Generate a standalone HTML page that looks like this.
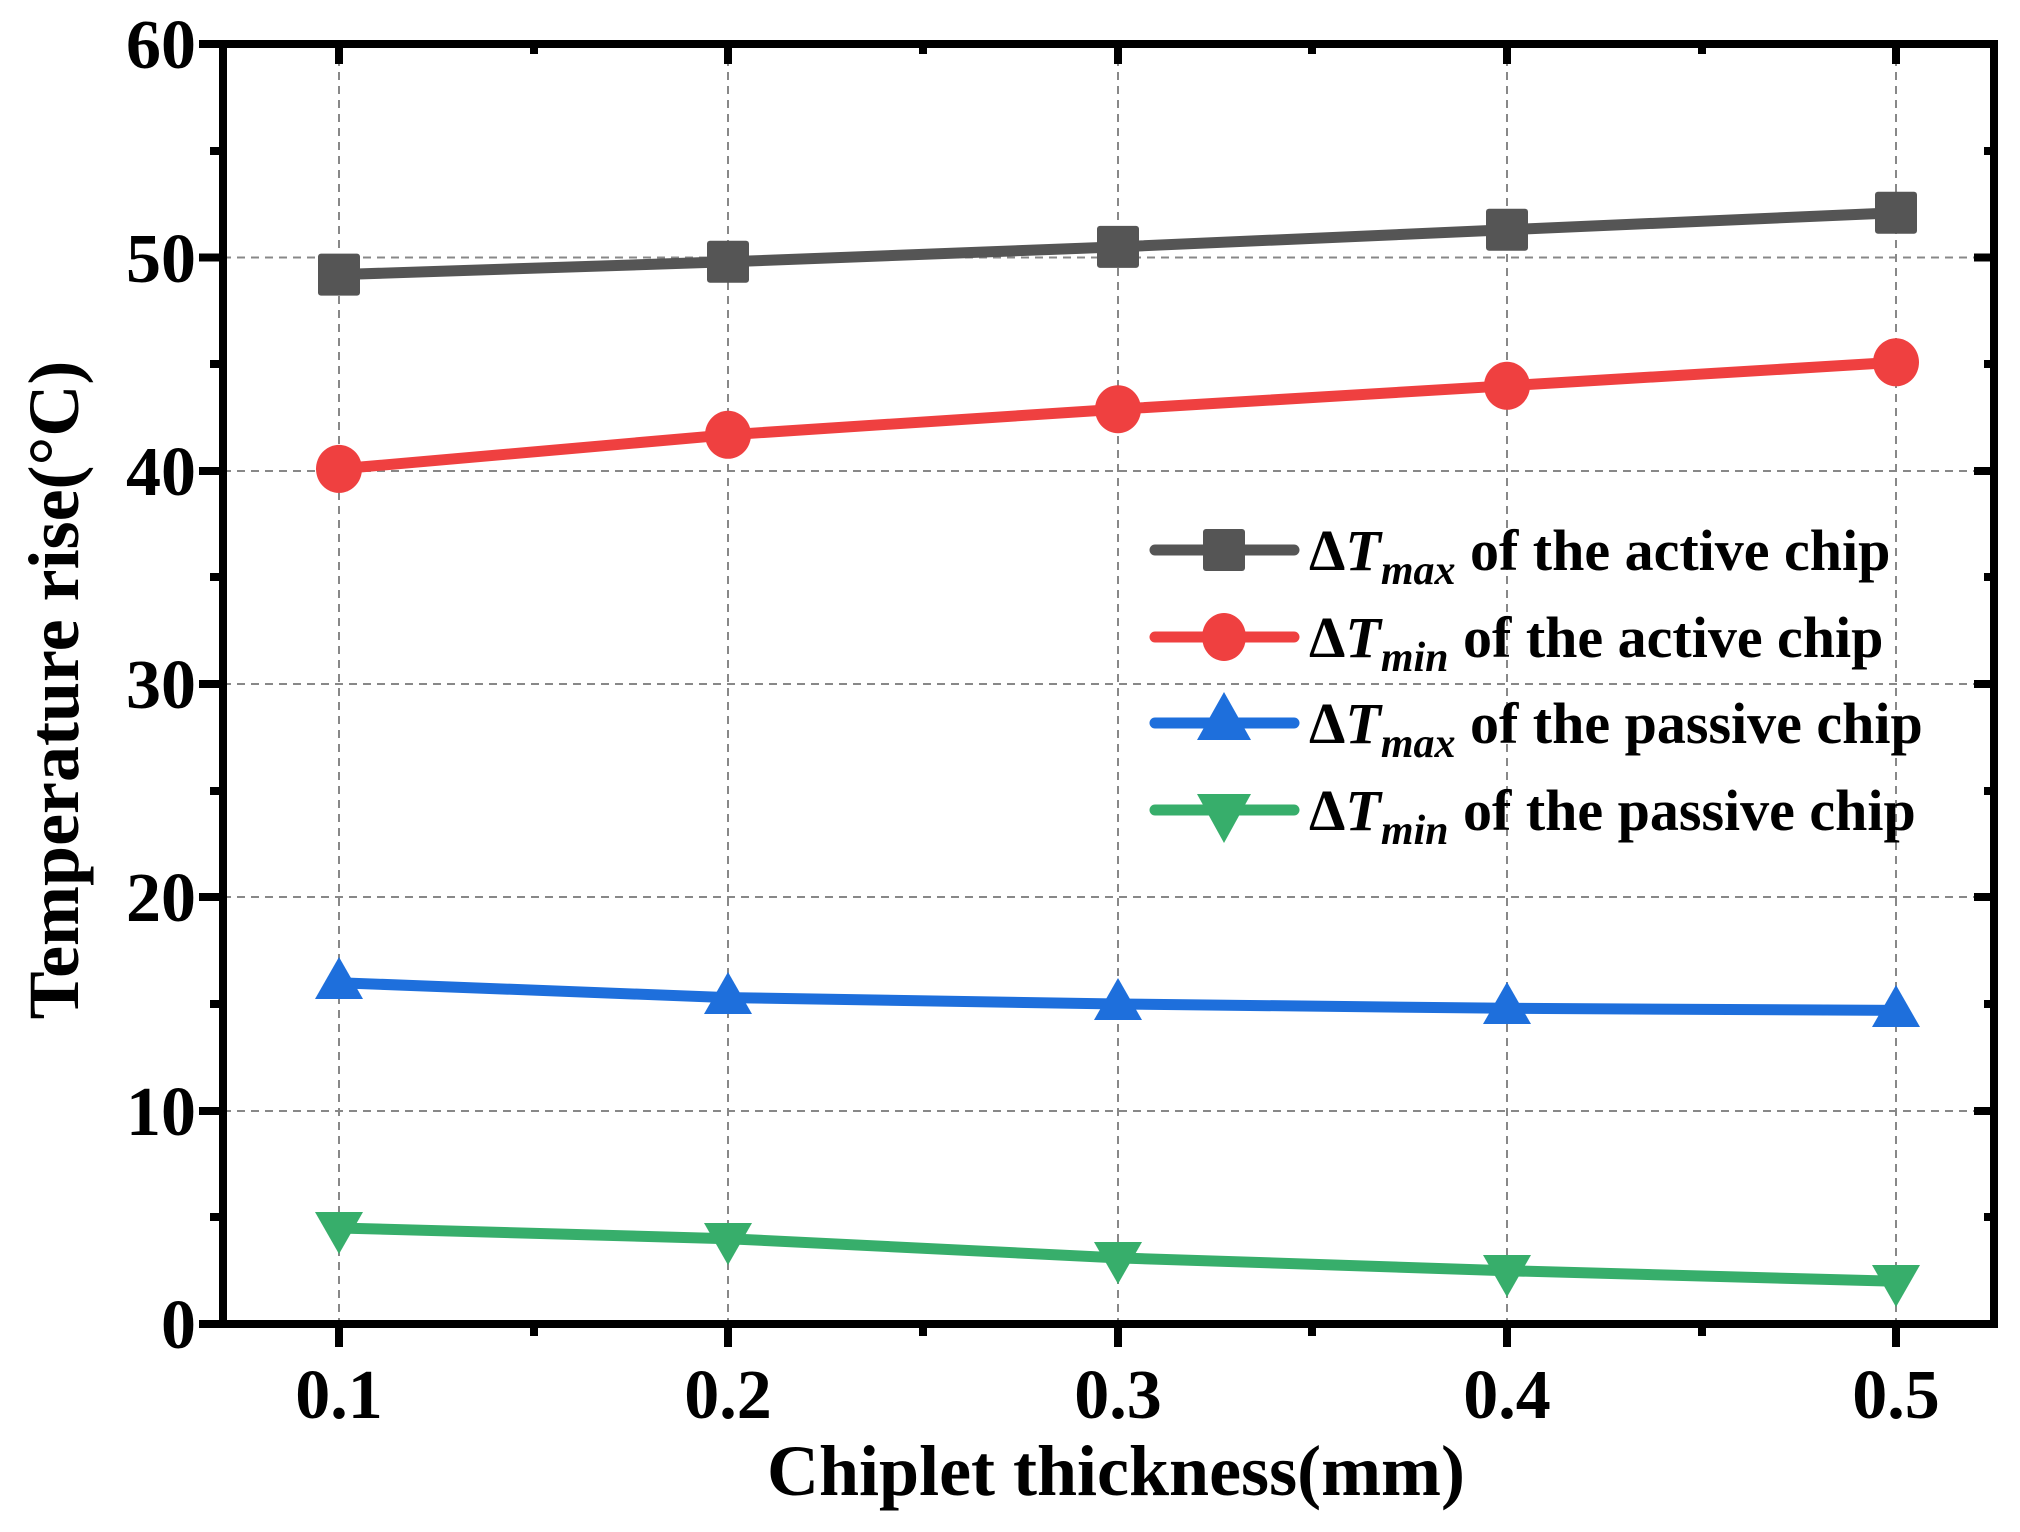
<!DOCTYPE html>
<html><head><meta charset="utf-8"><style>html,body{margin:0;padding:0;background:#fff}svg{display:block}</style></head>
<body>
<svg width="2020" height="1532" viewBox="0 0 2020 1532" xmlns="http://www.w3.org/2000/svg" font-family="Liberation Serif, serif" font-weight="bold">
<rect width="2020" height="1532" fill="#fff"/>
<g stroke="#888" stroke-width="2" stroke-dasharray="8,6">
<line x1="339" y1="44" x2="339" y2="1324"/><line x1="728" y1="44" x2="728" y2="1324"/><line x1="1118" y1="44" x2="1118" y2="1324"/><line x1="1507" y1="44" x2="1507" y2="1324"/><line x1="1896" y1="44" x2="1896" y2="1324"/>
<line x1="223" y1="257.5" x2="1994" y2="257.5"/><line x1="223" y1="471" x2="1994" y2="471"/><line x1="223" y1="684" x2="1994" y2="684"/><line x1="223" y1="897" x2="1994" y2="897"/><line x1="223" y1="1111" x2="1994" y2="1111"/>
</g>
<g stroke="#000" stroke-width="8">
<rect x="223" y="44" width="1771" height="1280" fill="none"/>
<path d="M339 1324v23M728 1324v23M1118 1324v23M1507 1324v23M1896 1324v23M534 1324v12M923 1324v12M1312 1324v12M1702 1324v12"/>
<path d="M339 44v20M728 44v20M1118 44v20M1507 44v20M1896 44v20M534 44v10M923 44v10M1312 44v10M1702 44v10"/>
<path d="M199 44h24M199 257.5h24M199 471h24M199 684h24M199 897h24M199 1111h24M199 1324h24M210 151h13M210 364h13M210 577h13M210 791h13M210 1004h13M210 1217h13"/>
<path d="M1994 257.5h-20M1994 471h-20M1994 684h-20M1994 897h-20M1994 1111h-20M1994 151h-10M1994 364h-10M1994 577h-10M1994 791h-10M1994 1004h-10M1994 1217h-10"/>
</g>
<g font-size="70" text-anchor="end">
<text x="196" y="68">60</text><text x="196" y="282">50</text><text x="196" y="495">40</text><text x="196" y="708">30</text><text x="196" y="921">20</text><text x="196" y="1135">10</text><text x="196" y="1348">0</text>
</g>
<g font-size="70" text-anchor="middle">
<text x="339" y="1418">0.1</text><text x="728" y="1418">0.2</text><text x="1118" y="1418">0.3</text><text x="1507" y="1418">0.4</text><text x="1896" y="1418">0.5</text>
</g>
<text x="1116" y="1495" font-size="72" text-anchor="middle">Chiplet thickness(mm)</text>
<text transform="translate(78,690) rotate(-90)" font-size="72" text-anchor="middle">Temperature rise(°C)</text>
<g stroke-width="11" fill="none" stroke-linejoin="round" stroke-linecap="round">
<polyline stroke="#555" points="339,274.6 728,261.8 1118,246.9 1507,229.8 1896,212.7"/>
<polyline stroke="#ef4040" points="339,468.9 728,434.8 1118,409.2 1507,385.8 1896,362.3"/>
<polyline stroke="#1e6fdc" points="339,982.7 728,997.6 1118,1004 1507,1008.3 1896,1010.4"/>
<polyline stroke="#37ae6b" points="339,1228 728,1238.7 1118,1257.9 1507,1270.7 1896,1281.3"/>
</g>
<g fill="#555"><rect x="318" y="253.6" width="42" height="42" rx="3"/><rect x="707" y="240.8" width="42" height="42" rx="3"/><rect x="1097" y="225.9" width="42" height="42" rx="3"/><rect x="1486" y="208.8" width="42" height="42" rx="3"/><rect x="1875" y="191.7" width="42" height="42" rx="3"/></g>
<g fill="#ef4040"><ellipse cx="339" cy="468.9" rx="23" ry="24"/><ellipse cx="728" cy="434.8" rx="23" ry="24"/><ellipse cx="1118" cy="409.2" rx="23" ry="24"/><ellipse cx="1507" cy="385.8" rx="23" ry="24"/><ellipse cx="1896" cy="362.3" rx="23" ry="24"/></g>
<g fill="#1e6fdc"><path d="M339 957l-24 42h48z"/><path d="M728 972l-24 42h48z"/><path d="M1118 978l-24 42h48z"/><path d="M1507 982l-24 42h48z"/><path d="M1896 985l-24 42h48z"/></g>
<g fill="#37ae6b"><path d="M339 1254l-24-42h48z"/><path d="M728 1265l-24-42h48z"/><path d="M1118 1284l-24-42h48z"/><path d="M1507 1297l-24-42h48z"/><path d="M1896 1307l-24-42h48z"/></g>
<g stroke-width="11" stroke-linecap="round">
<line x1="1155" y1="550" x2="1294" y2="550" stroke="#555"/>
<line x1="1155" y1="637" x2="1294" y2="637" stroke="#ef4040"/>
<line x1="1155" y1="723" x2="1294" y2="723" stroke="#1e6fdc"/>
<line x1="1155" y1="810" x2="1294" y2="810" stroke="#37ae6b"/>
</g>
<rect x="1203" y="529" width="42" height="42" rx="3" fill="#555"/>
<ellipse cx="1224" cy="637" rx="22" ry="24" fill="#ef4040"/>
<path d="M1224 692l-27 48h54z" fill="#1e6fdc"/>
<path d="M1224 843l-27-49h54z" fill="#37ae6b"/>
<g font-size="58">
<text x="1309" y="570">Δ<tspan font-style="italic">T</tspan><tspan font-style="italic" font-size="42" dy="14">max</tspan><tspan dy="-14"> of the active chip</tspan></text>
<text x="1309" y="657">Δ<tspan font-style="italic">T</tspan><tspan font-style="italic" font-size="42" dy="14">min</tspan><tspan dy="-14"> of the active chip</tspan></text>
<text x="1309" y="743">Δ<tspan font-style="italic">T</tspan><tspan font-style="italic" font-size="42" dy="14">max</tspan><tspan dy="-14"> of the passive chip</tspan></text>
<text x="1309" y="830">Δ<tspan font-style="italic">T</tspan><tspan font-style="italic" font-size="42" dy="14">min</tspan><tspan dy="-14"> of the passive chip</tspan></text>
</g>
</svg>
</body></html>
